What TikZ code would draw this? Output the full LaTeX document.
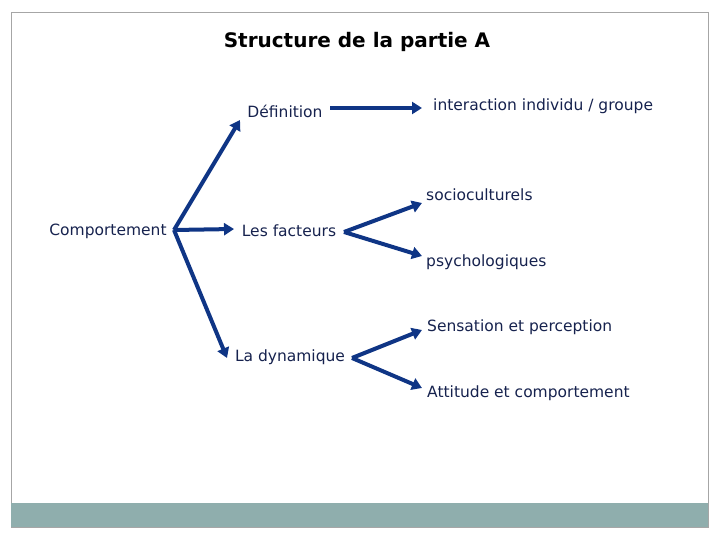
\documentclass[tikz,border=0pt]{standalone}
\usepackage{fontspec}
\setmainfont{DejaVu Sans}
\usetikzlibrary{arrows.meta}
\definecolor{arr}{HTML}{0F3585}
\definecolor{txt}{HTML}{16224E}
\definecolor{bar}{HTML}{8FAEAD}
\begin{document}
\begin{tikzpicture}[x=1pt,y=-1pt,
  lbl/.style={font=\fontsize{15.5}{17}\selectfont,text=txt,inner sep=0pt},
  lft/.style={lbl,anchor=west},
  ar/.style={draw=arr,line width=4pt,-{Triangle[length=10pt,width=12pt]}}]
\useasboundingbox (0,0) rectangle (720,540);
\draw[gray!70,line width=0.8pt] (11,12) rectangle (708,527);
\fill[bar] (11,503) rectangle (708,527);
\node[font=\bfseries\fontsize{20}{23}\selectfont,inner sep=0pt] (title) at (357,42) {Structure de la partie A};
\node[lbl] (comp) at (108,231) {Comportement};
\node[lbl] (def) at (285,111) {Définition};
\node[lft] (inter) at (433,106) {interaction individu / groupe};
\node[lbl] (fac) at (289,231) {Les facteurs};
\node[lft] (soc) at (426,195) {socioculturels};
\node[lft] (psy) at (426,262) {psychologiques};
\node[lbl] (dyn) at (290,357) {La dynamique};
\node[lft] (sens) at (427,327) {Sensation et perception};
\node[lft] (att) at (427,393) {Attitude et comportement};
\coordinate (f0) at (174,230);
\coordinate (t1) at (240,120);
\coordinate (t2) at (234,229);
\coordinate (t3) at (227,358);
\coordinate (d0) at (330,108);
\coordinate (d1) at (422,108);
\coordinate (f1) at (344,232);
\coordinate (s1) at (422,203);
\coordinate (p1) at (422,256);
\coordinate (f2) at (352,358);
\coordinate (e1) at (422,330);
\coordinate (a1) at (422,388);
\draw[ar] (f0) -- (t1);
\draw[ar] (f0) -- (t2);
\draw[ar] (f0) -- (t3);
\draw[ar] (d0) -- (d1);
\draw[ar] (f1) -- (s1);
\draw[ar] (f1) -- (p1);
\draw[ar] (f2) -- (e1);
\draw[ar] (f2) -- (a1);
\end{tikzpicture}
\end{document}
